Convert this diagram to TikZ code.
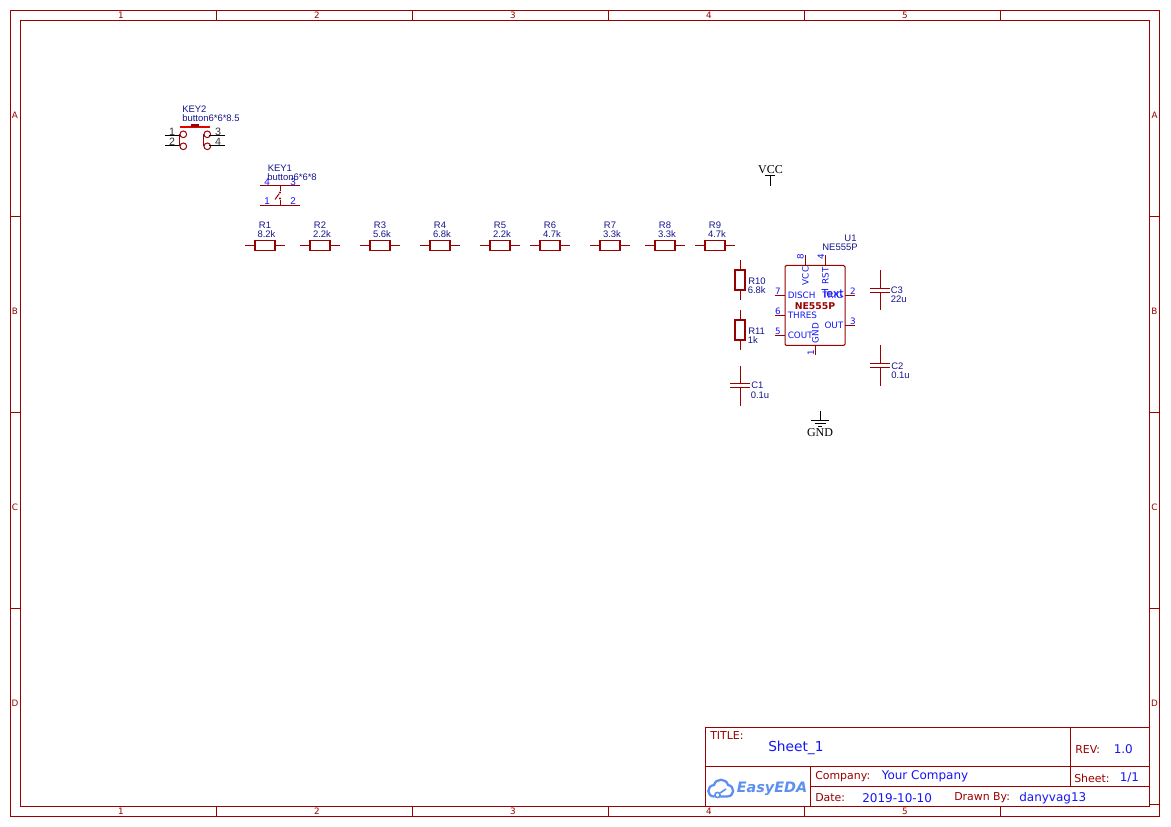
\documentclass[tikz,border=0pt]{standalone}
\usepackage{fontspec}
\setmainfont{DejaVu Sans}
\newfontfamily\serifvcc{Liberation Serif}
\newfontfamily\arialish{Liberation Sans}
\definecolor{sheetred}{HTML}{990000}
\definecolor{pinblue}{HTML}{1515F5}
\definecolor{refblue}{HTML}{14148C}
\definecolor{logoblue}{HTML}{5C8FF0}
\tikzset{
  wire/.style={draw=sheetred, line width=0.75pt},
  blackwire/.style={draw=black, line width=0.75pt},
  rbox/.style={draw=sheetred, line width=0.85pt, minimum width=15pt, minimum height=7.5pt, inner sep=0pt, outer sep=0pt},
  rvbox/.style={draw=sheetred, line width=0.85pt, minimum width=7.5pt, minimum height=15pt, inner sep=0pt, outer sep=0pt},
  capgap/.style={minimum width=14.5pt, minimum height=3pt, inner sep=0pt, outer sep=0pt},
  keycirc/.style={draw=sheetred, circle, line width=0.75pt, minimum size=5pt, inner sep=0pt},
  keydot/.style={circle, fill=sheetred, minimum size=1.8pt, inner sep=0pt},
  reftext/.style={text=refblue, font=\arialish\fontsize{7.1}{8}\selectfont, inner sep=0pt},
  pintext/.style={text=pinblue, font=\fontsize{6.6}{7}\selectfont, inner sep=0pt},
  keypin/.style={text=pinblue, font=\arialish\fontsize{7.4}{8}\selectfont, inner sep=0pt},
  keyblack/.style={text=black!80, font=\arialish\fontsize{8}{9}\selectfont, inner sep=0pt},
  sheettext/.style={text=sheetred, font=\fontsize{6.6}{7}\selectfont, inner sep=0pt},
  titlekey/.style={text=sheetred, font=\fontsize{8.2}{9}\selectfont, inner sep=0pt, anchor=west},
  titleval/.style={text=pinblue, font=\fontsize{9}{10}\selectfont, inner sep=0pt, anchor=west},
}
\begin{document}
\begin{tikzpicture}[x=0.75pt, y=-0.75pt]
  \useasboundingbox (0,0) rectangle (1171,827);

  % Frame
  \draw[wire] (10,10.5) rectangle (1159.5,816.5);
  \draw[wire] (20,20.5) rectangle (1149.5,806.5);
  \draw[wire] (1149.5,804.5) -- (1159.5,804.5);
  \draw[wire] (216,10.5) -- (216,20.5);
  \draw[wire] (412,10.5) -- (412,20.5);
  \draw[wire] (608,10.5) -- (608,20.5);
  \draw[wire] (804,10.5) -- (804,20.5);
  \draw[wire] (1000,10.5) -- (1000,20.5);
  \draw[wire] (216,806.5) -- (216,816.5);
  \draw[wire] (412,806.5) -- (412,816.5);
  \draw[wire] (608,806.5) -- (608,816.5);
  \draw[wire] (804,806.5) -- (804,816.5);
  \draw[wire] (1000,806.5) -- (1000,816.5);
  \draw[wire] (10,216.5) -- (20,216.5);
  \draw[wire] (10,412.5) -- (20,412.5);
  \draw[wire] (10,608.5) -- (20,608.5);
  \draw[wire] (1149.5,216.5) -- (1159.5,216.5);
  \draw[wire] (1149.5,412.5) -- (1159.5,412.5);
  \draw[wire] (1149.5,608.5) -- (1159.5,608.5);

  \node[sheettext] (top1) at (121,15.5) {1};
  \node[sheettext] (top2) at (317,15.5) {2};
  \node[sheettext] (top3) at (513,15.5) {3};
  \node[sheettext] (top4) at (709,15.5) {4};
  \node[sheettext] (top5) at (905,15.5) {5};
  \node[sheettext] (bot1) at (121,811.5) {1};
  \node[sheettext] (bot2) at (317,811.5) {2};
  \node[sheettext] (bot3) at (513,811.5) {3};
  \node[sheettext] (bot4) at (709,811.5) {4};
  \node[sheettext] (bot5) at (905,811.5) {5};
  \node[sheettext] (leftA) at (15,115.5) {A};
  \node[sheettext] (leftB) at (15,311.5) {B};
  \node[sheettext] (leftC) at (15,507.5) {C};
  \node[sheettext] (leftD) at (15,703.5) {D};
  \node[sheettext] (rightA) at (1154.5,115.5) {A};
  \node[sheettext] (rightB) at (1154.5,311.5) {B};
  \node[sheettext] (rightC) at (1154.5,507.5) {C};
  \node[sheettext] (rightD) at (1154.5,703.5) {D};

  % Title block
  \draw[wire] (705,727) rectangle (1149.5,806.5);
  \draw[wire] (705,766.5) -- (1149.5,766.5);
  \draw[wire] (810,786.5) -- (1149.5,786.5);
  \draw[wire] (1070,727) -- (1070,786.5);
  \draw[wire] (810,766.5) -- (810,806.5);

  \node[titlekey] (titlekey) at (710,735.5) {TITLE:};
  \node[titleval, font=\fontsize{10.3}{11}\selectfont] (titleval) at (768,748) {Sheet\_1};
  \node[titlekey] (revkey) at (1075,749.5) {REV:};
  \node[titleval] (revval) at (1113.5,749.5) {1.0};
  \node[titlekey] (companykey) at (815,776.5) {Company:};
  \node[titleval] (companyval) at (881.5,776.5) {Your Company};
  \node[titlekey] (sheetkey) at (1074,778) {Sheet:};
  \node[titleval] (sheetval) at (1119.5,778) {1/1};
  \node[titlekey] (datekey) at (815,798) {Date:};
  \node[titleval] (dateval) at (862,798) {2019-10-10};
  \node[titlekey] (drawnkey) at (954,798) {Drawn By:};
  \node[titleval] (drawnval) at (1019,798) {danyvag13};

  % Logo
  \draw[draw=logoblue, line width=1.7pt, line cap=round] (720,796.5) -- (727,796.5) .. controls (735,796.5) and (735,786) .. (728,785) .. controls (726,778) and (716,778) .. (714,785) .. controls (706,786) and (707,796.5) .. (714,796.5);
  \draw[draw=logoblue, line width=1.2pt] (717.5,795) circle (2.6);
  \draw[draw=logoblue, line width=1.2pt] (720,793) -- (726,789);
  \node[text=logoblue, font=\fontsize{10.8}{12}\selectfont\bfseries\itshape, inner sep=0pt, anchor=west] (logotext) at (736.5,789) {EasyEDA};

  % KEY2
  \node[reftext, anchor=west] (KEY2ref) at (182,109) {KEY2};
  \node[reftext, anchor=west] (KEY2val) at (182,118.5) {button6*6*8.5};
  \draw[draw=red!90!black, line width=1.5pt] (180,127.5) -- (210,127.5);
  \fill[sheetred] (190.5,124.5) rectangle (199,127.5);
  \node[keycirc] (K2a) at (183.3,134.3) {};
  \node[keycirc] (K2b) at (183.3,146.3) {};
  \node[keycirc] (K2c) at (207.3,134.3) {};
  \node[keycirc] (K2d) at (207.3,146.3) {};
  \draw[wire] (K2a.west) -- (K2b.west);
  \draw[wire] (K2c.west) -- (K2d.west);
  \draw[blackwire] (165,135.5) -- (K2a.west |- 165,135.5);
  \draw[blackwire] (165,145.5) -- (K2b.west |- 165,145.5);
  \draw[blackwire] (209,135.5) -- (225,135.5);
  \draw[blackwire] (209,145.5) -- (225,145.5);
  \node[keyblack] (K2n1) at (172,131.5) {1};
  \node[keyblack] (K2n2) at (172,141.5) {2};
  \node[keyblack] (K2n3) at (218,131.5) {3};
  \node[keyblack] (K2n4) at (218,141.5) {4};

  % KEY1
  \node[reftext, anchor=west] (KEY1ref) at (267.5,168.5) {KEY1};
  \node[reftext, anchor=west] (KEY1val) at (267,177.5) {button6*6*8};
  \coordinate (K1tl) at (260,185.5);
  \coordinate (K1tr) at (300,185.5);
  \coordinate (K1bl) at (260,205.5);
  \coordinate (K1br) at (300,205.5);
  \coordinate (K1sw) at (275,199.5);
  \draw[wire] (K1tl) -- (K1tr);
  \draw[wire] (K1bl) -- (K1br);
  \node[keydot] (K1up) at (280,192.5) {};
  \node[keydot] (K1dn) at (280,198.5) {};
  \draw[wire] (K1up) -- (280,185.5);
  \draw[wire] (K1dn) -- (280,205.5);
  \draw[wire] (K1sw) -- (K1up);
  \node[keypin] (K1n4) at (267,182) {4};
  \node[keypin] (K1n3) at (293,182) {3};
  \node[keypin] (K1n1) at (267,201) {1};
  \node[keypin] (K1n2) at (293,201) {2};

  % Resistors
  \node[rbox] (R1) at (265,245.5) {};
  \node[rbox] (R2) at (320,245.5) {};
  \node[rbox] (R3) at (380,245.5) {};
  \node[rbox] (R4) at (440,245.5) {};
  \node[rbox] (R5) at (500,245.5) {};
  \node[rbox] (R6) at (550,245.5) {};
  \node[rbox] (R7) at (610,245.5) {};
  \node[rbox] (R8) at (665,245.5) {};
  \node[rbox] (R9) at (715,245.5) {};
  \node[rvbox] (R10) at (740,280) {};
  \node[rvbox] (R11) at (740,330) {};

  \draw[wire] (R1.west) -- ++(-10,0) (R1.east) -- ++(10,0);
  \draw[wire] (R2.west) -- ++(-10,0) (R2.east) -- ++(10,0);
  \draw[wire] (R3.west) -- ++(-10,0) (R3.east) -- ++(10,0);
  \draw[wire] (R4.west) -- ++(-10,0) (R4.east) -- ++(10,0);
  \draw[wire] (R5.west) -- ++(-10,0) (R5.east) -- ++(10,0);
  \draw[wire] (R6.west) -- ++(-10,0) (R6.east) -- ++(10,0);
  \draw[wire] (R7.west) -- ++(-10,0) (R7.east) -- ++(10,0);
  \draw[wire] (R8.west) -- ++(-10,0) (R8.east) -- ++(10,0);
  \draw[wire] (R9.west) -- ++(-10,0) (R9.east) -- ++(10,0);
  \draw[wire] (R10.north) -- ++(0,-10) (R10.south) -- ++(0,10);
  \draw[wire] (R11.north) -- ++(0,-10) (R11.south) -- ++(0,10);

  \node[reftext] (R1ref) at (265,225.5) {R1};
  \node[reftext] (R2ref) at (320,225.5) {R2};
  \node[reftext] (R3ref) at (380,225.5) {R3};
  \node[reftext] (R4ref) at (440,225.5) {R4};
  \node[reftext] (R5ref) at (500,225.5) {R5};
  \node[reftext] (R6ref) at (550,225.5) {R6};
  \node[reftext] (R7ref) at (610,225.5) {R7};
  \node[reftext] (R8ref) at (665,225.5) {R8};
  \node[reftext] (R9ref) at (715,225.5) {R9};
  \node[reftext] (R1val) at (266.5,234.5) {8.2k};
  \node[reftext] (R2val) at (322,234.5) {2.2k};
  \node[reftext] (R3val) at (382,234.5) {5.6k};
  \node[reftext] (R4val) at (442,234.5) {6.8k};
  \node[reftext] (R5val) at (502,234.5) {2.2k};
  \node[reftext] (R6val) at (552,234.5) {4.7k};
  \node[reftext] (R7val) at (612,234.5) {3.3k};
  \node[reftext] (R8val) at (667,234.5) {3.3k};
  \node[reftext] (R9val) at (717,234.5) {4.7k};
  \node[reftext, anchor=west] (R10ref) at (748,281) {R10};
  \node[reftext, anchor=west] (R10val) at (747.5,290) {6.8k};
  \node[reftext, anchor=west] (R11ref) at (748,331) {R11};
  \node[reftext, anchor=west] (R11val) at (747.5,340) {1k};

  % Capacitors
  \node[capgap] (C1) at (740,385.5) {};
  \node[capgap] (C2) at (880,365.5) {};
  \node[capgap] (C3) at (880,290.5) {};
  \draw[wire] (C1.north west) -- (C1.north east) (C1.south west) -- (C1.south east);
  \draw[wire] (C2.north west) -- (C2.north east) (C2.south west) -- (C2.south east);
  \draw[wire] (C3.north west) -- (C3.north east) (C3.south west) -- (C3.south east);
  \draw[wire] (C1.north) -- ++(0,-18) (C1.south) -- ++(0,18);
  \draw[wire] (C2.north) -- ++(0,-18) (C2.south) -- ++(0,18);
  \draw[wire] (C3.north) -- ++(0,-18) (C3.south) -- ++(0,18);
  \node[reftext, anchor=west] (C1ref) at (751,385.5) {C1};
  \node[reftext, anchor=west] (C1val) at (750.5,395) {0.1u};
  \node[reftext, anchor=west] (C2ref) at (891,366) {C2};
  \node[reftext, anchor=west] (C2val) at (891,375) {0.1u};
  \node[reftext, anchor=west] (C3ref) at (890.5,290.5) {C3};
  \node[reftext, anchor=west] (C3val) at (890.5,299.5) {22u};

  % U1
  \node[rbox, line width=0.75pt, rounded corners=1pt, minimum width=45pt, minimum height=60pt] (U1) at (815,305.5) {};
  \coordinate (P8) at (805,255);
  \coordinate (P4) at (825,255);
  \coordinate (P7) at (775,295.5);
  \coordinate (P6) at (775,315.5);
  \coordinate (P5) at (775,335.5);
  \coordinate (P2) at (855,295.5);
  \coordinate (P3) at (855,325.5);
  \coordinate (P1) at (815,355);
  \draw[wire] (P8) -- (P8 |- U1.north);
  \draw[wire] (P4) -- (P4 |- U1.north);
  \draw[wire] (P7) -- (P7 -| U1.west);
  \draw[wire] (P6) -- (P6 -| U1.west);
  \draw[wire] (P5) -- (P5 -| U1.west);
  \draw[wire] (P2) -- (P2 -| U1.east);
  \draw[wire] (P3) -- (P3 -| U1.east);
  \draw[wire] (P1) -- (P1 |- U1.south);
  \node[reftext] (U1ref) at (850.5,238.5) {U1};
  \node[reftext] (U1val) at (840,247.5) {NE555P};
  \node[text=sheetred, font=\fontsize{7}{8}\selectfont\bfseries, inner sep=0pt] (U1name) at (815,306.5) {NE555P};
  \node[pintext, rotate=90] (n8) at (800.5,257) {8};
  \node[pintext, rotate=90] (n4) at (821,257) {4};
  \node[pintext] (n7) at (778,291.5) {7};
  \node[pintext] (n6) at (778,311.5) {6};
  \node[pintext] (n5) at (778,331.5) {5};
  \node[pintext] (n2) at (853,291.5) {2};
  \node[pintext] (n3) at (853,321.5) {3};
  \node[pintext, rotate=90] (n1) at (811,353) {1};
  \node[pintext, anchor=west] (DISCH) at (787.5,295.5) {DISCH};
  \node[pintext, anchor=west] (THRES) at (787.5,315.5) {THRES};
  \node[pintext, anchor=west] (COUT) at (787.5,335.5) {COUT};
  \node[pintext, anchor=east] (OUT) at (843.5,325.5) {OUT};
  \node[pintext, anchor=east] (TRIG) at (843.5,295.5) {TRIG};
  \node[pintext, anchor=east, font=\fontsize{8.2}{9}\selectfont] (Text) at (844,293.5) {Text};
  \node[pintext, rotate=90] (VCCpin) at (805.5,276) {VCC};
  \node[pintext, rotate=90] (RST) at (825.5,276) {RST};
  \node[pintext, rotate=90] (GNDpin) at (815.5,333) {GND};

  % Power
  \node[font=\serifvcc\fontsize{9}{10}\selectfont, inner sep=0pt] (VCC) at (770.5,170) {VCC};
  \coordinate (VCCbar) at (770,175.5);
  \coordinate (VCCend) at (770,186);
  \draw[blackwire] (VCCbar) -- (VCCend);
  \draw[blackwire] (765,175.5) -- (775,175.5);
  \node[font=\serifvcc\fontsize{9}{10}\selectfont, inner sep=0pt] (GND) at (820,433) {GND};
  \coordinate (GNDtop) at (820,410.5);
  \coordinate (GNDbar) at (820,420.5);
  \draw[blackwire] (GNDtop) -- (GNDbar);
  \draw[blackwire] (811,420.5) -- (829,420.5);
  \draw[blackwire] (814.5,423.5) -- (825.5,423.5);
  \draw[blackwire] (818,426.5) -- (822,426.5);
\end{tikzpicture}
\end{document}
